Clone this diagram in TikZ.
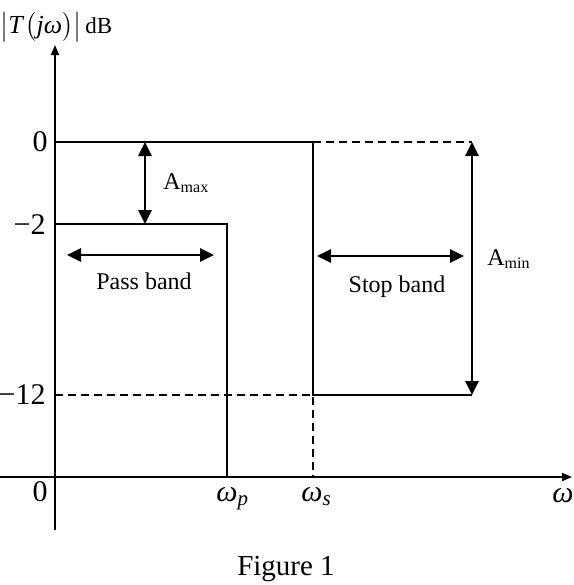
\documentclass[tikz,border=0pt]{standalone}
\usepackage{amsmath}
\usepackage{fontspec}
\setmainfont{Liberation Serif}
\usetikzlibrary{arrows.meta,positioning}
\tikzset{axis/.style={line width=0.9pt,-{Triangle[length=5pt,width=4pt]}},
  level/.style={line width=1.4pt},
  guide/.style={line width=1.4pt,dash pattern=on 4pt off 2.5pt},
  span/.style={line width=1.4pt,{Triangle[length=7pt,width=6.5pt]}-{Triangle[length=7pt,width=6.5pt]}},
  tick/.style={inner sep=0pt,font=\fontsize{15}{18}\selectfont},
  band/.style={inner sep=0pt,font=\fontsize{12}{14}\selectfont}}

\begin{document}
\begin{tikzpicture}[x=0.5pt,y=-0.5pt]
              \useasboundingbox (0,0) rectangle (574,585);

              % axes
              \coordinate (xl) at (0,477);
              \coordinate (xr) at (572,477);
              \coordinate (yb) at (55,530);
              \coordinate (yt) at (55,45);
              \draw[axis] (xl) -- (xr);
              \draw[axis] (yb) -- (yt);

              % corners of the spec
              \coordinate (p0) at (55,142);
              \coordinate (s0) at (313,142);
              \coordinate (e0) at (472,142);
              \coordinate (p2) at (55,224);
              \coordinate (wp2) at (227,224);
              \coordinate (wp) at (227,477);
              \coordinate (p12) at (55,395);
              \coordinate (s12) at (313,395);
              \coordinate (e12) at (472,395);
              \coordinate (ws) at (313,477);

              \draw[level] (p0) -- (s0) -- (s12) -- (e12);
              \draw[level] (p2) -- (wp2) -- (wp);
              \draw[guide] (s0) -- (e0);
              \draw[guide] (p12) -- (s12) -- (ws);

              % attenuation and bands
              \coordinate (amt) at (145,142);
              \coordinate (amb) at (145,224);
              \draw[span] (amt) -- (amb);
              \draw[span] (e0) -- (e12);
              \coordinate (pl) at (67,255);
              \coordinate (pr) at (214,255);
              \draw[span] (pl) -- (pr);
              \coordinate (sl) at (317,256);
              \coordinate (sr) at (464,256);
              \draw[span] (sl) -- (sr);

              \node[band,anchor=base west] (amax) at (163,189) {A$_{\text{max}}$};
              \node[band,anchor=base west] (amin) at (487,265) {A$_{\text{min}}$};
              \node[band,anchor=base] (pass) at (144,289) {Pass band};
              \node[band,anchor=base] (stop) at (397,292) {Stop band};

              % tick labels
              \node[tick,anchor=east] (l0) at (48,142) {0};
              \node[tick,anchor=east] (l2) at (46,225) {−2};
              \node[tick,anchor=east] (l12) at (46,395) {−12};
              \node[tick,anchor=east] (o) at (48,492) {0};
              \node[tick,anchor=base west] (lwp) at (216,501) {$\textit{ω}_{\textit{p}}$};
              \node[tick,anchor=base west] (lws) at (301,501) {$\textit{ω}_{\textit{s}}$};
              \node[tick,anchor=base west] (lw) at (552,502) {\textit{ω}};

              \node[inner sep=0pt,anchor=base west,font=\fontsize{13}{15}\selectfont] (title) at (0,33)
                {$\big|\textit{T}\mkern2mu\big(\textit{jω}\big)\big|$\,{\fontsize{11.5}{14}\selectfont dB}};
              \node[tick,anchor=base] (fig) at (286,575) {\fontsize{14.5}{17}\selectfont Figure 1};
            \end{tikzpicture}
\end{document}
